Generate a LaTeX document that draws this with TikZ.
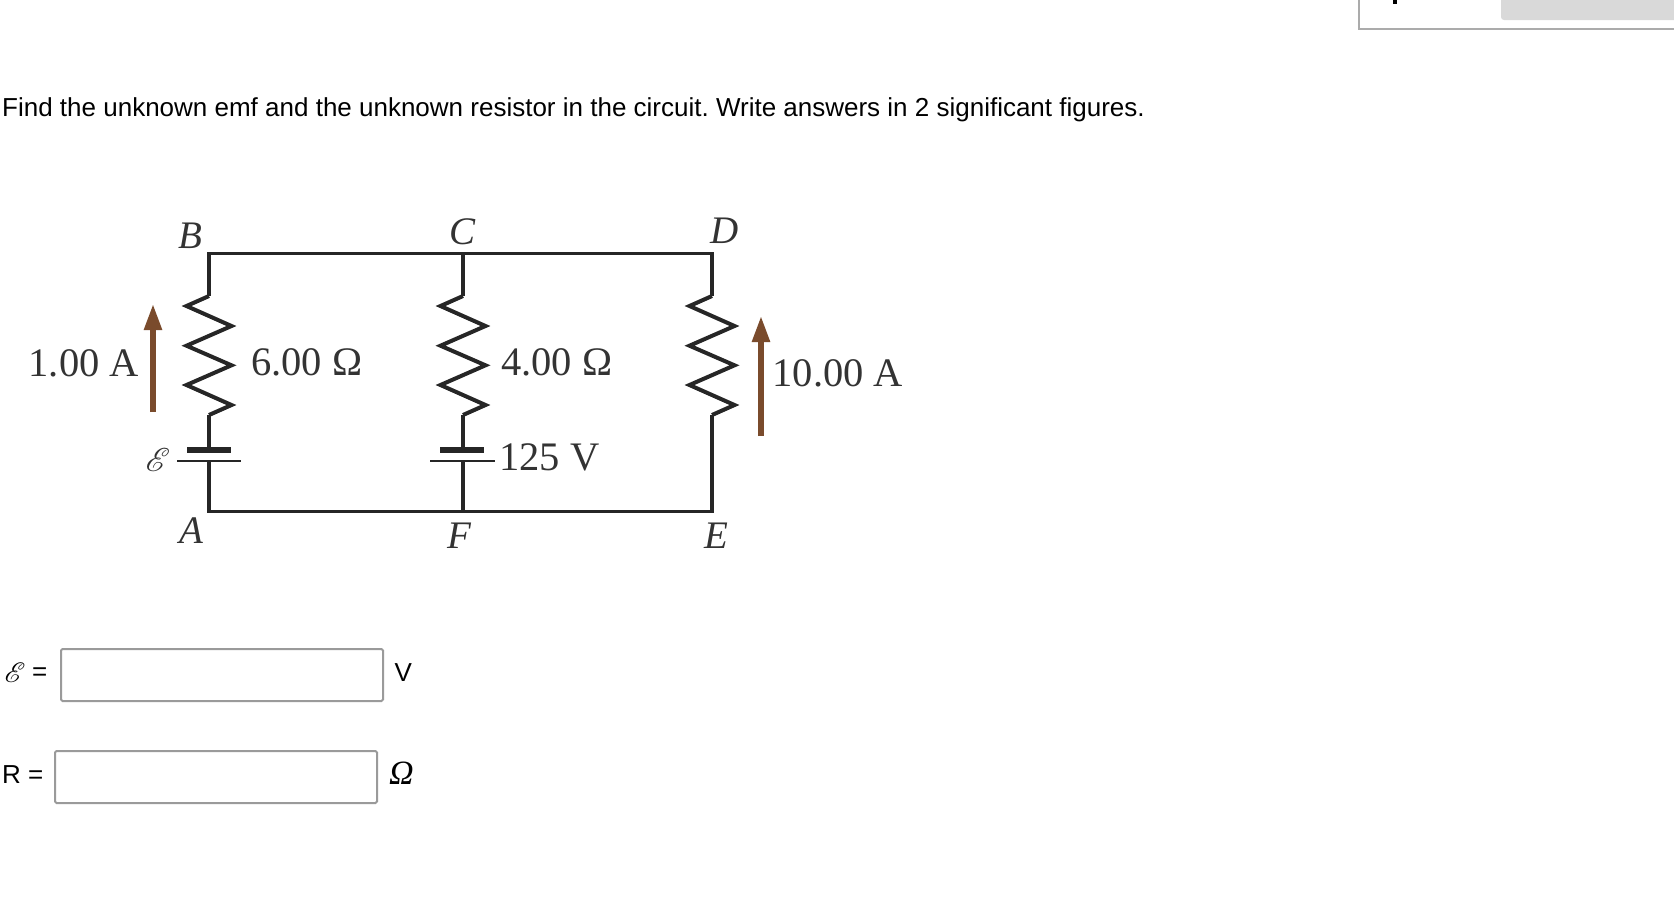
\documentclass[tikz,border=0pt]{standalone}
\usepackage{fontspec}
\usepackage{mathrsfs}
\setmainfont{Liberation Serif}
\newfontfamily\uifont{Liberation Sans}
\definecolor{wire}{HTML}{262626}
\definecolor{txt}{HTML}{333333}
\definecolor{brownarrow}{HTML}{7A4B2C}
\definecolor{boxline}{HTML}{9A9A9A}
\definecolor{panelline}{HTML}{ABABAB}
\definecolor{panelfill}{HTML}{D9D9D9}
\usetikzlibrary{arrows.meta}
\frenchspacing
\tikzset{
  x=1pt,y=-1pt,
  wireline/.style={draw=wire,line width=3.7pt,line join=miter},
  thickplate/.style={draw=wire,line width=5.3pt},
  thinplate/.style={draw=wire,line width=2.8pt},
  resistor/.pic={\draw[wireline,line width=4pt] (0,0)--(-22.5,10)--(22.5,30)--(-22.5,49.7)--(22.5,69.3)--(-22.5,89)--(22.5,109)--(0,119);},
  valuelabel/.style={inner sep=0pt,anchor=base west,text=txt,font=\fontsize{40.5}{48}\selectfont},
  pointlabel/.style={inner sep=0pt,anchor=base west,text=txt,font=\fontsize{39}{46}\selectfont\itshape},
  uilabel/.style={inner sep=0pt,anchor=base west,text=black,font=\uifont\fontsize{26}{30}\selectfont},
  answerbox/.style={draw=boxline,line width=2pt,rounded corners=1.5pt,fill=white},
  currentarrow/.style={draw=brownarrow,line width=5.5pt,-{Triangle[length=26pt,width=17pt,color=brownarrow]}},
}
\begin{document}
\begin{tikzpicture}
\useasboundingbox (0,0) rectangle (1674,906);
% top-right panel fragment
\fill[panelfill,rounded corners=3pt] (1501,-10) rectangle (1684,20);
\draw[draw=panelline,line width=2.6pt] (1359,-3)--(1359,29)--(1677,29);
\fill[black] (1393,0) rectangle (1397,4);
\node[uilabel] (q) at (2,116) {Find the unknown emf and the unknown resistor in the circuit. Write answers in 2 significant figures.};
% circuit
\coordinate (B) at (209,253.5);
\coordinate (C) at (463,253.5);
\coordinate (D) at (712,253.5);
\coordinate (A) at (209,511.5);
\coordinate (F) at (463,511.5);
\coordinate (E) at (712,511.5);
\coordinate (rbt) at (209,296);
\coordinate (rct) at (463,296);
\coordinate (rdt) at (712,296);
\coordinate (rbb) at (209,415);
\coordinate (rcb) at (463,415);
\coordinate (rdb) at (712,415);
\coordinate (pb1) at (209,450);
\coordinate (pb2) at (209,461);
\coordinate (pc1) at (463,450);
\coordinate (pc2) at (463,461);
\draw[wireline] (rbt)--(B)--(D)--(rdt);
\draw[wireline] (C)--(rct);
\draw[wireline] (pb2)--(A)--(E)--(rdb);
\draw[wireline] (pc2)--(F);
\draw[wireline] (rbb)--(pb1);
\draw[wireline] (rcb)--(pc1);
\pic at (rbt) {resistor};
\pic at (rct) {resistor};
\pic at (rdt) {resistor};
\draw[thickplate] (187,450)--(231,450);
\draw[thinplate] (177,461)--(241,461);
\draw[thickplate] (440,450)--(484,450);
\draw[thinplate] (430,461)--(495,461);
% current arrows
\coordinate (ia1) at (153,412);
\coordinate (ia2) at (153,304);
\coordinate (ib1) at (761,436);
\coordinate (ib2) at (761,316);
\draw[currentarrow] (ia1)--(ia2);
\draw[currentarrow] (ib1)--(ib2);
% labels
\node[valuelabel] (l1) at (28.5,376) {1.00 A};
\node[valuelabel] (l2) at (251,375) {6.00 Ω};
\node[valuelabel] (l3) at (501,375) {4.00 Ω};
\node[valuelabel] (l4) at (499,470) {125 V};
\node[valuelabel] (l5) at (772.5,386) {10.00 A};
\node[pointlabel] (lB) at (178,248) {B};
\node[pointlabel] (lC) at (449,244) {C};
\node[pointlabel] (lD) at (710,243) {D};
\node[pointlabel] (lA) at (179,543) {A};
\node[pointlabel] (lF) at (447.5,548) {F};
\node[pointlabel] (lE) at (704,548) {E};
\node[inner sep=0pt,anchor=base west,text=txt,scale=3.3] (lemf) at (145,471) {$\mathscr{E}$};
% answers
\node[inner sep=0pt,anchor=base west,scale=2.8] (aE) at (4,682) {$\mathscr{E}$};
\node[uilabel] (aeq) at (32,680) {=};
\draw[answerbox] (61,649) rectangle (383,701);
\node[uilabel] (av) at (394.5,681) {V};
\node[uilabel] (ar) at (2,783) {R =};
\draw[answerbox] (55,751) rectangle (377,803);
\node[inner sep=0pt,anchor=base west,text=black] (ao) at (389,784) {\fontsize{34}{36}\selectfont\itshape Ω};
\end{tikzpicture}
\end{document}
